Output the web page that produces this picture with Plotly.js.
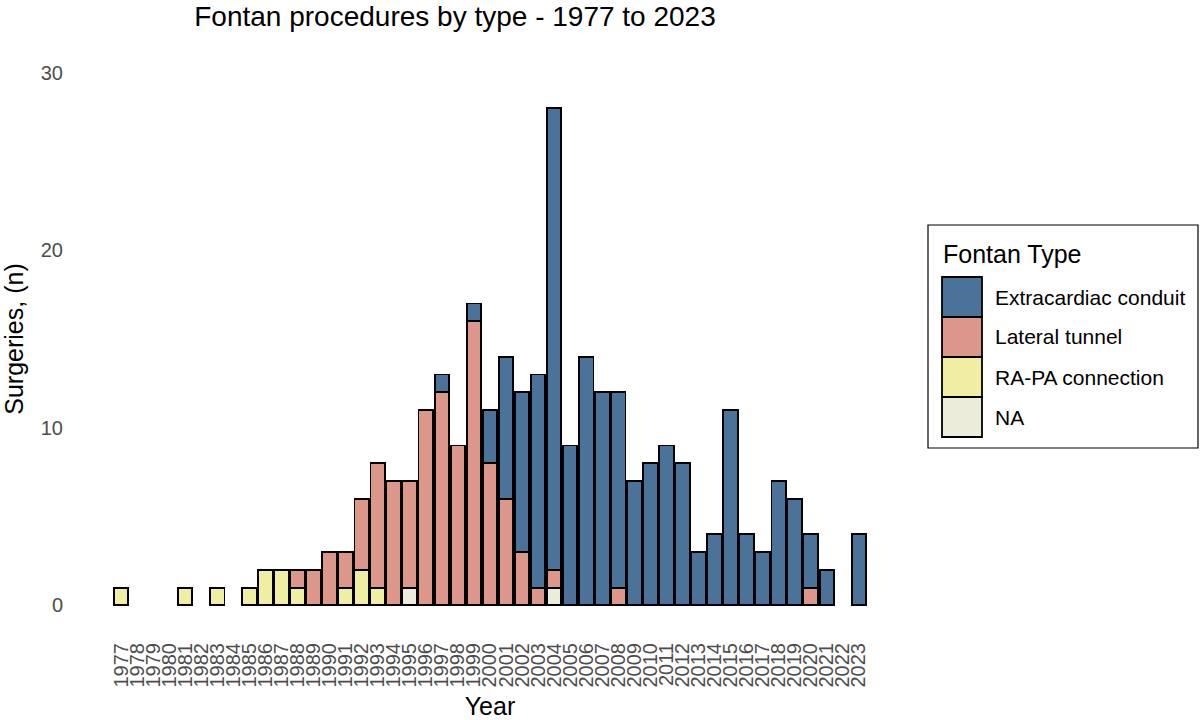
<!DOCTYPE html>
<html><head><meta charset="utf-8">
<script src="https://cdn.plot.ly/plotly-3.0.1.min.js"></script>
<style>html,body{margin:0;padding:0;background:#fff}#chart{width:1200px;height:720px}</style>
</head><body><div id="chart"></div>
<script>
const years = [1977,1978,1979,1980,1981,1982,1983,1984,1985,1986,1987,1988,1989,1990,1991,1992,1993,1994,1995,1996,1997,1998,1999,2000,2001,2002,2003,2004,2005,2006,2007,2008,2009,2010,2011,2012,2013,2014,2015,2016,2017,2018,2019,2020,2021,2022,2023];
const yearLabels = ["1977","1978","1979","1980","1981","1982","1983","1984","1985","1986","1987","1988","1989","1990","1991","1992","1993","1994","1995","1996","1997","1998","1999","2000","2001","2002","2003","2004","2005","2006","2007","2008","2009","2010","2011","2012","2013","2014","2015","2016","2017","2018","2019","2020","2021","2022","2023"];
const extracardiac  = [0,0,0,0,0,0,0,0,0,0,0,0,0,0,0,0,0,0,0,0,1,0,1,3,8,9,12,26,9,14,12,11,7,8,9,8,3,4,11,4,3,7,6,3,2,0,4];
const lateralTunnel = [0,0,0,0,0,0,0,0,0,0,0,1,2,3,2,4,7,7,6,11,12,9,16,8,6,3,1,1,0,0,0,1,0,0,0,0,0,0,0,0,0,0,0,1,0,0,0];
const raPaConnection= [1,0,0,0,1,0,1,0,1,2,2,1,0,0,1,2,1,0,0,0,0,0,0,0,0,0,0,0,0,0,0,0,0,0,0,0,0,0,0,0,0,0,0,0,0,0,0];
const naType        = [0,0,0,0,0,0,0,0,0,0,0,0,0,0,0,0,0,0,1,0,0,0,0,0,0,0,0,1,0,0,0,0,0,0,0,0,0,0,0,0,0,0,0,0,0,0,0];
const typeNames  = ["Extracardiac conduit","Lateral tunnel","RA-PA connection","NA"];
const typeColors = ["#4b7399","#dd968a","#f0eea3","#ececda"];
const yTicks = [0,10,20,30];

const seriesTopDown = [extracardiac, lateralTunnel, raPaConnection, naType];
const traces = [];
for (let i = seriesTopDown.length - 1; i >= 0; i--) {
  traces.push({
    type: 'bar', name: typeNames[i], x: years,
    y: seriesTopDown[i].map(v => v === 0 ? null : v),
    width: 0.9,
    marker: {color: typeColors[i], line: {color: '#000', width: 1.8}},
    hoverinfo: 'x+y+name'
  });
}

// custom legend (pixel layout -> paper coords)
const L = 76, R = 296, T = 46, B = 88, W = 1200, H = 720;
const PW = W - L - R, PH = H - T - B;
const X = px => (px - L) / PW;
const Y = py => (H - B - py) / PH;
const shapes = [{type:'rect', xref:'paper', yref:'paper', x0:X(928), x1:X(1198), y0:Y(448), y1:Y(225),
  line:{color:'#000', width:1.2}, fillcolor:'rgba(0,0,0,0)', layer:'above'}];
const annotations = [{xref:'paper', yref:'paper', x:X(941), y:Y(254), xanchor:'left', yanchor:'middle',
  text:'Fontan Type', showarrow:false, font:{size:25, color:'#000'}}];
typeNames.forEach((nm, i) => {
  const top = 277 + 40 * i;
  shapes.push({type:'rect', xref:'paper', yref:'paper', x0:X(942), x1:X(982), y0:Y(top+40), y1:Y(top),
    line:{color:'#000', width:1.8}, fillcolor:typeColors[i], layer:'above'});
  annotations.push({xref:'paper', yref:'paper', x:X(993), y:Y(top+20), xanchor:'left', yanchor:'middle',
    text:nm, showarrow:false, font:{size:21, color:'#000'}});
});

const layout = {
  width: W, height: H,
  margin: {l:L, r:R, t:T, b:B, pad:0},
  paper_bgcolor:'#fff', plot_bgcolor:'#fff',
  font: {family:'Liberation Sans, Arial, sans-serif', color:'#000'},
  barmode:'stack', showlegend:false,
  title: {text:'Fontan procedures by type - 1977 to 2023', font:{size:28, color:'#000'},
    xref:'container', x:455/1200, xanchor:'center', yref:'container', y:1-16/720, yanchor:'middle'},
  xaxis: {range:[1974.195, 2025.81], tickmode:'array', tickvals:years, ticktext:yearLabels,
    tickangle:-90, tickfont:{size:20, color:'#4d4d4d'}, showgrid:false, zeroline:false, showline:false,
    ticks:'', ticklabelstandoff:6, automargin:false,
    title:{text:'Year', font:{size:25, color:'#000'}}},
  yaxis: {range:[-1.5, 31.5], tickmode:'array', tickvals:yTicks, ticktext:yTicks.map(String),
    tickfont:{size:20, color:'#4d4d4d'}, showgrid:false, zeroline:false, showline:false,
    ticks:'', ticklabelstandoff:12, automargin:false,
    title:{text:'Surgeries, (n)', font:{size:25, color:'#000'}}},
  shapes: shapes, annotations: annotations
};
Plotly.newPlot('chart', traces, layout, {displayModeBar:false, staticPlot:true});
</script></body></html>
